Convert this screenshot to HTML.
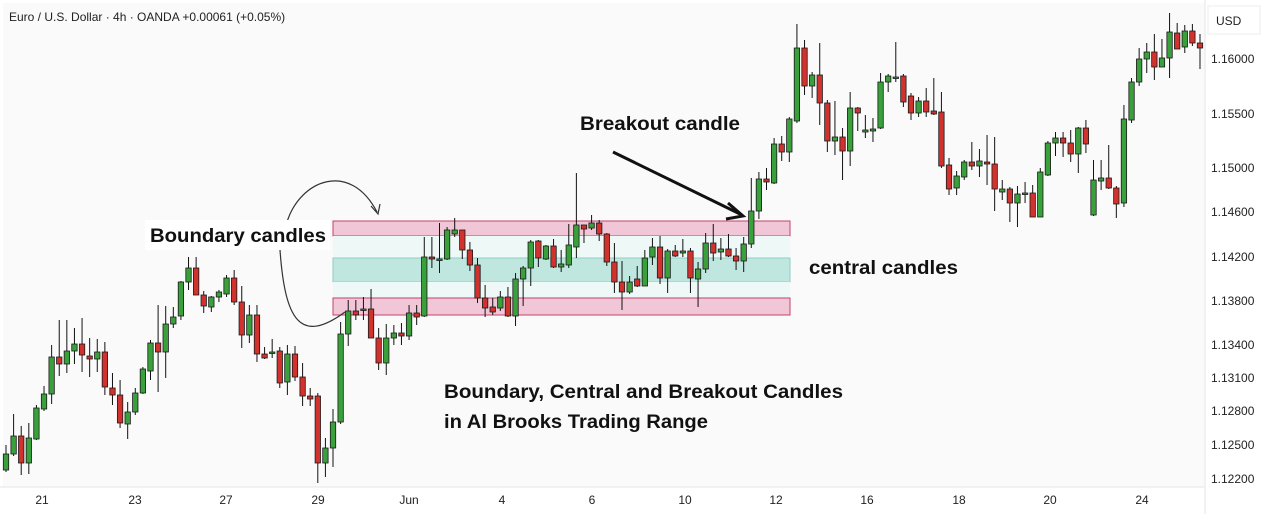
<!DOCTYPE html>
<html><head><meta charset="utf-8"><style>
html,body{margin:0;padding:0;background:#fff;}
svg{display:block;font-family:"Liberation Sans",sans-serif;}
</style></head><body>
<svg id="s" width="1267" height="514" viewBox="0 0 1267 514" xmlns="http://www.w3.org/2000/svg">
<rect x="0" y="0" width="1267" height="514" fill="#ffffff"/>
<rect x="3" y="3" width="1202" height="484" fill="#fafafb"/>
<line x1="1205" y1="0" x2="1205" y2="514" stroke="#e6e6ea"/>
<line x1="0" y1="487" x2="1205" y2="487" stroke="#e6e6ea"/>
<rect x="1208" y="6" width="52" height="28" fill="#fff" stroke="#eee"/>
<text x="1216" y="25" font-size="12" fill="#222">USD</text>
<g font-size="12" fill="#222">
<text x="1211" y="63">1.16000</text>
<text x="1211" y="118">1.15500</text>
<text x="1211" y="172">1.15000</text>
<text x="1211" y="216">1.14600</text>
<text x="1211" y="261">1.14200</text>
<text x="1211" y="305">1.13800</text>
<text x="1211" y="349">1.13400</text>
<text x="1211" y="382">1.13100</text>
<text x="1211" y="415">1.12800</text>
<text x="1211" y="449">1.12500</text>
<text x="1211" y="483">1.12200</text>
</g>
<g font-size="12" fill="#222" text-anchor="middle">
<text x="42" y="504">21</text><text x="135" y="504">23</text><text x="226" y="504">27</text>
<text x="318" y="504">29</text><text x="409" y="504">Jun</text><text x="502" y="504">4</text>
<text x="592" y="504">6</text><text x="685" y="504">10</text><text x="776" y="504">12</text>
<text x="867" y="504">16</text><text x="959" y="504">18</text><text x="1050" y="504">20</text>
<text x="1142" y="504">24</text>
</g>
<text x="9" y="21" font-size="12" fill="#222">Euro / U.S. Dollar · 4h · OANDA  +0.00061 (+0.05%)</text>
<rect x="333" y="221" width="457" height="15" fill="#f1c6d6" stroke="#c2416e" stroke-width="1"/>
<rect x="333" y="236" width="457" height="22" fill="#eef8f7"/>
<rect x="333" y="258" width="457" height="24" fill="#bfe6df" stroke="#8fcfc3" stroke-width="1"/>
<rect x="333" y="282" width="457" height="16" fill="#eef8f7"/>
<rect x="333" y="298" width="457" height="17" fill="#f1c6d6" stroke="#c2416e" stroke-width="1"/>
<g id="c"></g>
<path d="M287 222 C300 180 350 160 377 212" fill="none" stroke="#333" stroke-width="1.2"/>
<path d="M371 206 L378 214 L380 204" fill="none" stroke="#333" stroke-width="1.2"/>
<path d="M280 250 C285 320 300 345 345 312" fill="none" stroke="#333" stroke-width="1.2"/>
<line x1="613" y1="152" x2="740" y2="214" stroke="#111" stroke-width="3"/>
<path d="M728 203 L743 216 L726 219" fill="none" stroke="#111" stroke-width="3"/>
<rect x="145" y="220" width="185" height="30" fill="#fff"/>
<g font-weight="bold" fill="#111" font-size="19">
<text x="150" y="242" textLength="176" lengthAdjust="spacingAndGlyphs">Boundary candles</text>
<text x="580" y="130" textLength="160" lengthAdjust="spacingAndGlyphs">Breakout candle</text>
<text x="809" y="274" textLength="149" lengthAdjust="spacingAndGlyphs">central candles</text>
<text x="444" y="398" textLength="399" lengthAdjust="spacingAndGlyphs">Boundary, Central and Breakout Candles</text>
<text x="444" y="428" textLength="264" lengthAdjust="spacingAndGlyphs">in Al Brooks Trading Range</text>
</g>
</svg>
<script>
var d="g454470445472 g436454414456 r436463426475 g438463423474 g408439405440 g394409386411 g357394345404 r357364320376 g351364320373 g344351328364 r344355318372 r356359338377 g352359339372 r352387342395 r388395373405 r395423380428 g412424402439 g393412388415 g369393367394 g343371340380 r343352305392 g324352306378 g317324307328 g282316281320 g268282257290 r268295257291 r295306291313 g297307296312 g292297290302 g278294275297 r278302270305 r302335286348 g315335305343 r315354305362 r354358347359 g352353339358 r351383347388 g354382345395 r354377346381 r377396363406 r396399388406 r396463393483 g448463438477 g422448409467 g334422322424 g311334300346 r311315300320 g309310297320 r309338289338 r338363328370 g338363324375 g333338325345 r333336323345 g313336305340 r313317305325 g257316237317 r257259237268 g259260223273 g230259227260 g230234218237 r230250230259 r250265242271 r265298258303 r298308285317 r307312298315 g297308291311 r297316287317 g279316273326 g268279266306 g242268240286 r241258240267 g246259245260 r246267239268 g264267250272 g245265224268 g225247173258 r225229225243 g223228215230 r223234220241 r234262233266 r262282243293 r282292261310 g282292276294 r279286266287 g258286250286 g247257238265 r247278236284 g251278249293 r251256245257 g251253239257 r251278248293 g269279262307 g243269233273 r243253224261 g249252238260 r249256234257 r256261248270 g244261237272 g211244178248 g179211172219 r179182168190 g144183138184 r144152136161 g119152117162 g048121024123 r048086040095 g075086072098 r075103043125 r103141100152 g137141101155 r137151128180 g108151092166 r108113107131 g130132115138 g129131118142 g082128073129 g076082074092 g077078042082 r076102074107 r096113093120 g101113097117 r101112088117 r111114078115 r112166092168 r165189158195 g176188171195 g162177160180 r162166142170 g161166149177 r162164135185 r164189137211 g189192180200 r189203187222 g194203186227 g193194182203 r193217185217 g172217168217 g143175141176 g138143132156 r138143132157 r143154130162 g128154127173 r128144120153 g180215160216 g178181160190 r178188145189 r188204186218 g119203105207 g082120078123 g059082048086 g052059043073 r052067034080 g058067039067 g032058013078 r033049023049 g031047025053 r031043024046 r043048034069".split(" ");
var g=document.getElementById("c"),h="";
d.forEach(function(s,i){var t=s[0],a=+s.substr(1,3),b=+s.substr(4,3),hi=+s.substr(7,3),lo=+s.substr(10,3);
var x=6+i*7.605;var bh=Math.max(b-a,1.5);
h+='<line x1="'+x+'" y1="'+hi+'" x2="'+x+'" y2="'+lo+'" stroke="#111" stroke-width="1"/>';
h+='<rect x="'+(x-2.7)+'" y="'+a+'" width="5.4" height="'+bh+'" fill="'+(t=="g"?"#3aa03c":"#d2322d")+'" stroke="#1a1a1a" stroke-width="0.8"/>';});
g.innerHTML=h;
</script>
</body></html>
